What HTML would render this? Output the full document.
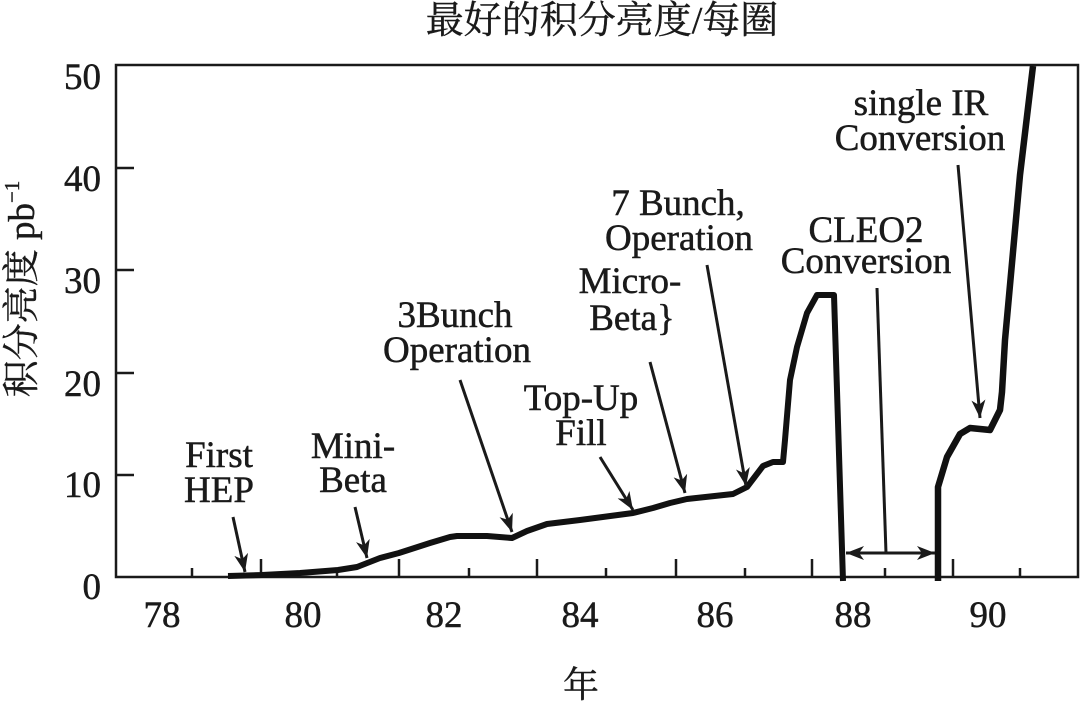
<!DOCTYPE html>
<html>
<head>
<meta charset="utf-8">
<style>
  html, body { margin: 0; padding: 0; background: #fff; }
  svg { display: block; }
  .lbl { font-family: "Liberation Serif", "Noto Serif CJK SC", serif; font-size: 37px; fill: #1a1a1a; stroke: #1a1a1a; stroke-width: 0.5; }
  .cjk { font-family: "Liberation Serif", "Noto Serif CJK SC", serif; fill: #1a1a1a; stroke: #1a1a1a; stroke-width: 0.4; }
</style>
</head>
<body>
<svg width="1080" height="704" viewBox="0 0 1080 704" xmlns="http://www.w3.org/2000/svg">
  <defs>
    <marker id="ah" markerUnits="userSpaceOnUse" markerWidth="24" markerHeight="18" refX="18" refY="8" orient="auto-start-reverse" viewBox="0 0 24 16">
      <path d="M0,1 L18,8 L0,15 L5,8 Z" fill="#1a1a1a"/>
    </marker>
  </defs>

  <!-- Title -->
  <text class="cjk" x="602" y="33" font-size="38" text-anchor="middle">最好的积分亮度/每圈</text>

  <!-- Y axis label -->
  <text class="cjk" transform="translate(34,289) rotate(-90)" font-size="37" text-anchor="middle">积分亮度 pb<tspan font-size="21" dy="-15">−1</tspan></text>

  <!-- X axis label -->
  <text class="cjk" x="581" y="697" font-size="36" text-anchor="middle">年</text>

  <!-- Frame -->
  <rect x="116" y="65" width="962" height="512" fill="none" stroke="#1a1a1a" stroke-width="2.5"/>

  <!-- Y ticks -->
  <g stroke="#1a1a1a" stroke-width="2.5">
    <line x1="116" y1="168" x2="134" y2="168"/>
    <line x1="116" y1="270" x2="134" y2="270"/>
    <line x1="116" y1="373" x2="134" y2="373"/>
    <line x1="116" y1="475" x2="134" y2="475"/>
  </g>
  <!-- X ticks -->
  <g stroke="#1a1a1a" stroke-width="2.5">
    <line x1="192" y1="577" x2="192" y2="568"/>
    <line x1="261" y1="577" x2="261" y2="559"/>
    <line x1="337" y1="577" x2="337" y2="568"/>
    <line x1="399" y1="577" x2="399" y2="559"/>
    <line x1="469" y1="577" x2="469" y2="568"/>
    <line x1="537" y1="577" x2="537" y2="559"/>
    <line x1="606" y1="577" x2="606" y2="568"/>
    <line x1="676" y1="577" x2="676" y2="559"/>
    <line x1="745" y1="577" x2="745" y2="568"/>
    <line x1="812" y1="577" x2="812" y2="559"/>
    <line x1="885" y1="577" x2="885" y2="568"/>
    <line x1="953" y1="577" x2="953" y2="559"/>
    <line x1="1020" y1="577" x2="1020" y2="568"/>
  </g>

  <!-- Y tick labels -->
  <g class="lbl" text-anchor="end">
    <text x="101" y="89">50</text>
    <text x="101" y="191">40</text>
    <text x="101" y="293">30</text>
    <text x="101" y="396">20</text>
    <text x="101" y="497">10</text>
    <text x="101" y="599">0</text>
  </g>
  <!-- X tick labels -->
  <g class="lbl" text-anchor="middle">
    <text x="162" y="627">78</text>
    <text x="303" y="627">80</text>
    <text x="444" y="627">82</text>
    <text x="580" y="627">84</text>
    <text x="715" y="627">86</text>
    <text x="853" y="627">88</text>
    <text x="988" y="627">90</text>
  </g>

  <!-- Main curve -->
  <path d="M228,576 L262,575 L300,573 L338,570 L357,567 L380,558 L399,553 L430,543 L450,537 L457,536 L487,536 L512,538 L527,531 L547,524 L580,520 L633,513 L653,508 L670,503 L687,499 L733,494 L747,487 L763,466 L773,462 L783,462 L785,440 L790,380 L797,347 L807,313 L817,295 L834,295 L843,581"
        fill="none" stroke="#111" stroke-width="6" stroke-linejoin="round"/>
  <path d="M938,581 L938,487 L947,457 L960,434 L970,428 L990,430 L1000,410 L1002,392 L1005,340 L1020,175 L1033,66"
        fill="none" stroke="#111" stroke-width="6.5" stroke-linejoin="round"/>

  <!-- Arrows -->
  <g stroke="#1a1a1a" stroke-width="3" fill="none">
    <line x1="233" y1="517" x2="245" y2="572" marker-end="url(#ah)"/>
    <line x1="355" y1="507" x2="367" y2="558" marker-end="url(#ah)"/>
    <line x1="460" y1="380" x2="512" y2="532" marker-end="url(#ah)"/>
    <line x1="600" y1="457" x2="633" y2="510" marker-end="url(#ah)"/>
    <line x1="650" y1="362" x2="685" y2="493" marker-end="url(#ah)"/>
    <line x1="707" y1="265" x2="746" y2="486" marker-end="url(#ah)"/>
    <line x1="958" y1="165" x2="980" y2="418" marker-end="url(#ah)"/>
    <line x1="877" y1="288" x2="886" y2="553"/>
    <line x1="846" y1="553" x2="935" y2="553" marker-start="url(#ah)" marker-end="url(#ah)"/>
  </g>

  <!-- Annotation labels -->
  <g class="lbl" text-anchor="middle">
    <text x="219" y="467">First</text>
    <text x="219" y="502">HEP</text>
    <text x="353" y="458">Mini-</text>
    <text x="353" y="492">Beta</text>
    <text x="455" y="327">3Bunch</text>
    <text x="457" y="362">Operation</text>
    <text x="581" y="410">Top-Up</text>
    <text x="581" y="445">Fill</text>
    <text x="630" y="293">Micro-</text>
    <text x="632" y="330">Beta}</text>
    <text x="678" y="215">7 Bunch,</text>
    <text x="679" y="250">Operation</text>
    <text x="866" y="242">CLEO2</text>
    <text x="866" y="273">Conversion</text>
    <text x="921" y="115">single IR</text>
    <text x="920" y="150">Conversion</text>
  </g>
</svg>
</body>
</html>
